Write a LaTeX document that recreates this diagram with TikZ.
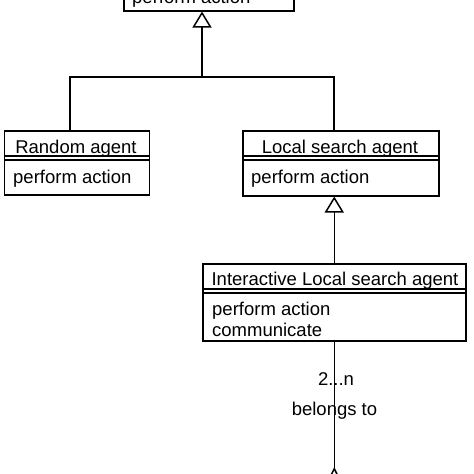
\documentclass[tikz,border=0pt]{standalone}
\usepackage{fontspec}
\setmainfont{Liberation Sans}
\usetikzlibrary{arrows.meta}
\begin{document}
\begin{tikzpicture}[x=1pt,y=-1pt]
\tikzset{
  box/.style={draw, line width=1.5pt, inner sep=0pt, anchor=north west},
  lbl/.style={font=\fontsize{18.5}{21}\selectfont, inner sep=0pt, anchor=base},
  lblw/.style={lbl, anchor=base west},
  edge/.style={line width=1.5pt},
  inh/.style={edge, -{Triangle[open, length=16pt, width=19pt, line width=1.5pt]}},
  agg/.style={edge, -{Diamond[open, length=24pt, width=12pt, line width=1.5pt]}}
}
\clip (0,0) rectangle (474,474);
\fill[white] (0,0) rectangle (474,474);

% top class (cut off)
\node[box, minimum width=170pt, minimum height=60pt] (top) at (123,-50) {};
\node[lblw] (topop) at (132,3) {perform action};

% Random agent
\node[box, minimum width=145pt, minimum height=64pt] (rand) at (3.5,130) {};
\node[lbl] (randt) at (76,153) {Random agent};
\draw[edge] ([yshift=-26pt]rand.north west) -- ([yshift=-26pt]rand.north east);
\draw[edge] ([yshift=-30pt]rand.north west) -- ([yshift=-30pt]rand.north east);
\node[lblw] (randop) at (13,183) {perform action};

% Local search agent
\node[box, minimum width=196pt, minimum height=65pt] (loc) at (242,130) {};
\node[lbl] (loct) at (340,153) {Local search agent};
\draw[edge] ([yshift=-26pt]loc.north west) -- ([yshift=-26pt]loc.north east);
\draw[edge] ([yshift=-30pt]loc.north west) -- ([yshift=-30pt]loc.north east);
\node[lblw] (locop) at (251,183) {perform action};

% Interactive Local search agent
\node[box, minimum width=263pt, minimum height=77pt] (inter) at (202,263) {};
\node[lbl] (intt) at (335,285) {Interactive Local search agent};
\draw[edge] ([yshift=-26pt]inter.north west) -- ([yshift=-26pt]inter.north east);
\draw[edge] ([yshift=-30pt]inter.north west) -- ([yshift=-30pt]inter.north east);
\node[lblw] (intop1) at (212,315) {perform action};
\node[lblw] (intop2) at (212,336) {communicate};

% generalisation to top
\coordinate (j1) at (202,77);
\coordinate (jl) at (70,77);
\coordinate (jr) at (334,77);
\draw[edge] (jl |- rand.north) -- (jl) -- (jr) -- (jr |- loc.north);
\draw[inh] (j1) -- (j1 |- top.south);

% generalisation inter -> local
\draw[inh] (inter.north) -- (inter.north |- loc.south);

% aggregation
\coordinate (grp) at (334,491);
\draw[agg] (inter.south) -- (inter.south |- grp);
\node[lbl] (mult) at (336,385) {2...n};
\node[lbl] (role) at (334.5,415) {belongs to};
\end{tikzpicture}
\end{document}
